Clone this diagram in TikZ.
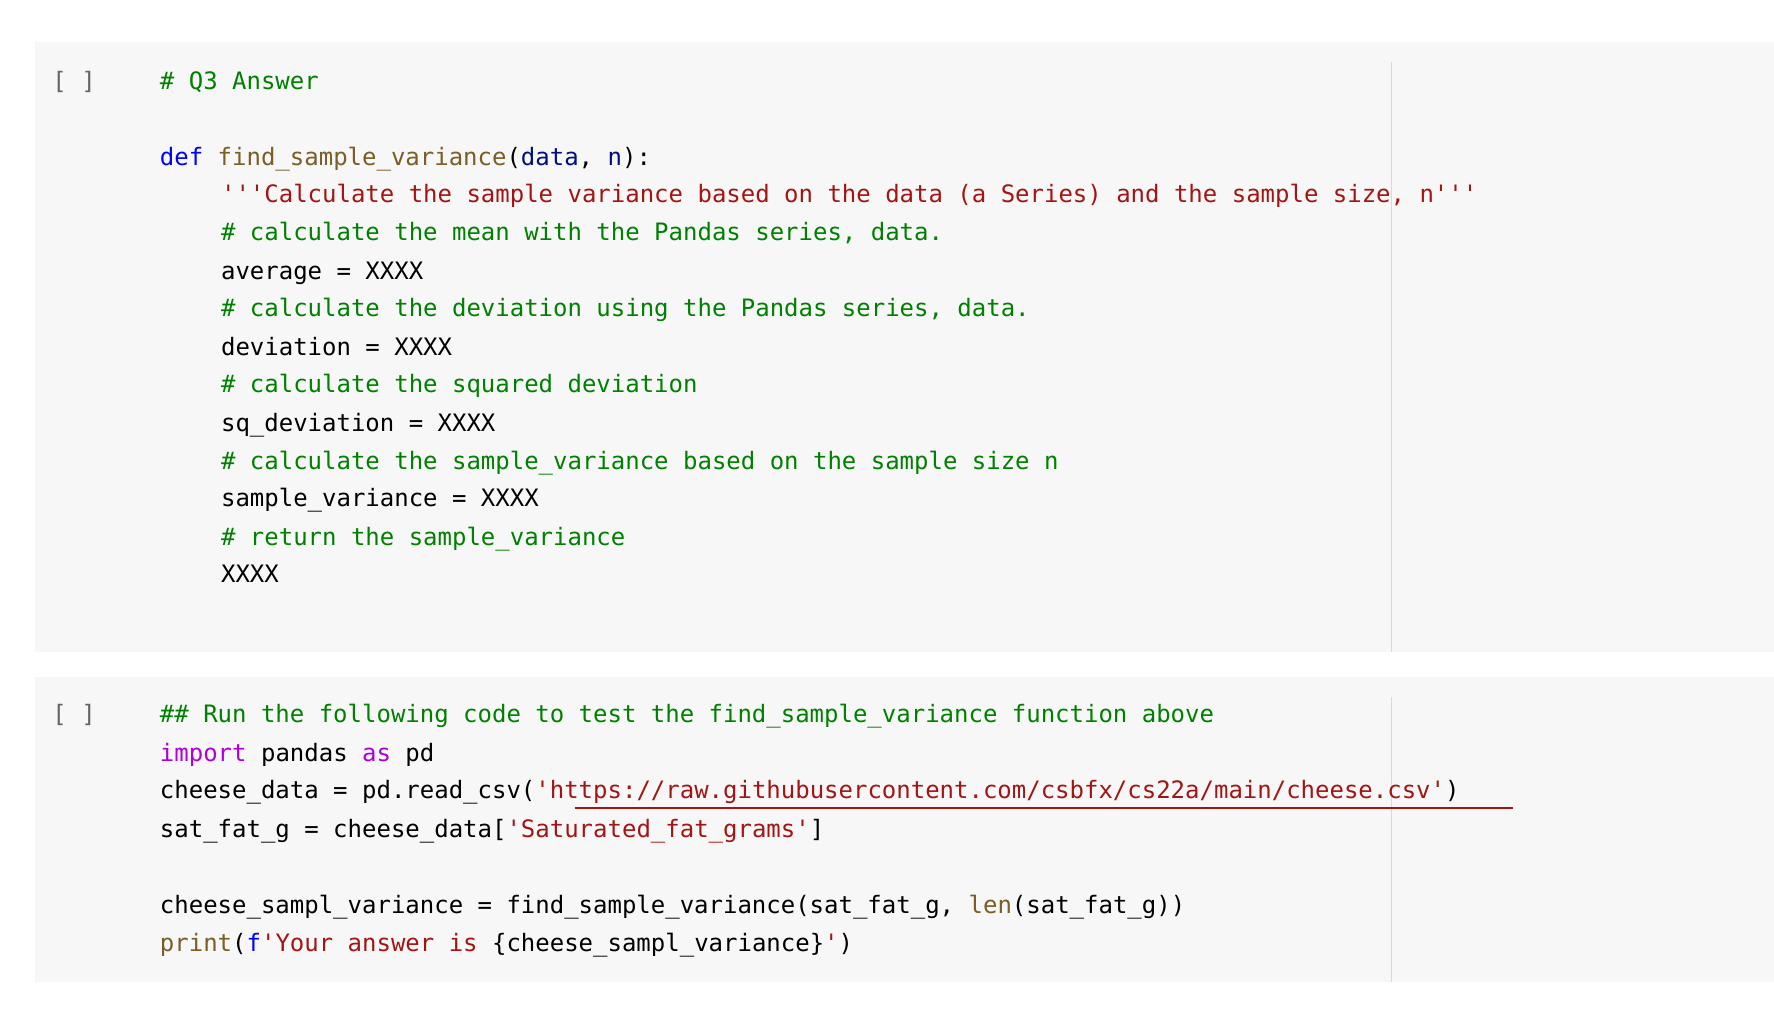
\documentclass[tikz,border=0pt]{standalone}
\usepackage{fontspec}
\setmonofont{DejaVu Sans Mono}
\definecolor{cellbg}{HTML}{F7F7F7}
\definecolor{cm}{HTML}{008000}
\definecolor{kw}{HTML}{0000FF}
\definecolor{fn}{HTML}{795E26}
\definecolor{pa}{HTML}{001080}
\definecolor{st}{HTML}{A31515}
\definecolor{pu}{HTML}{AF00DB}
\definecolor{rule}{HTML}{D9D9D9}
\newcommand{\Cm}[1]{\textcolor{cm}{#1}}
\newcommand{\Kw}[1]{\textcolor{kw}{#1}}
\newcommand{\Fn}[1]{\textcolor{fn}{#1}}
\newcommand{\Pa}[1]{\textcolor{pa}{#1}}
\newcommand{\St}[1]{\textcolor{st}{#1}}
\newcommand{\Pu}[1]{\textcolor{pu}{#1}}
\begin{document}
\begin{tikzpicture}[x=0.5pt,y=-0.5pt,
  code/.style={anchor=base west,inner sep=0pt,font=\ttfamily\fontsize{10.6pt}{12pt}\selectfont},
  br/.style={code,text=black!60}]
\useasboundingbox (0,0) rectangle (1568,893);
\fill[white] (0,0) rectangle (1568,893);
\fill[cellbg] (31,37) rectangle (1568,576);
\fill[cellbg] (31,598) rectangle (1568,868);
\draw[rule] (1230,55) -- (1230,576);
\draw[rule] (1230,616) -- (1230,868);
\node[br] (b1) at (46,79) {[ ]};
\node[br] (b2) at (46,639) {[ ]};
\node[code] (l1) at (141,79) {\Cm{\# Q3 Answer}};
\node[code] (l2) at (141,146) {\Kw{def} \Fn{find\_sample\_variance}(\Pa{data}, \Pa{n}):};
\node[code] (l3) at (195,179) {\St{'''Calculate the sample variance based on the data (a Series) and the sample size, n'''}};
\node[code] (l4) at (195,213) {\Cm{\# calculate the mean with the Pandas series, data.}};
\node[code] (l5) at (195,247) {average = XXXX};
\node[code] (l6) at (195,280) {\Cm{\# calculate the deviation using the Pandas series, data.}};
\node[code] (l7) at (195,314) {deviation = XXXX};
\node[code] (l8) at (195,347) {\Cm{\# calculate the squared deviation}};
\node[code] (l9) at (195,381) {sq\_deviation = XXXX};
\node[code] (l10) at (195,415) {\Cm{\# calculate the sample\_variance based on the sample size n}};
\node[code] (l11) at (195,448) {sample\_variance = XXXX};
\node[code] (l12) at (195,482) {\Cm{\# return the sample\_variance}};
\node[code] (l13) at (195,515) {XXXX};
\node[code] (m1) at (141,639) {\Cm{\#\# Run the following code to test the find\_sample\_variance function above}};
\node[code] (m2) at (141,673) {\Pu{import} pandas \Pu{as} pd};
\node[code] (m3) at (141,706) {cheese\_data = pd.read\_csv(\St{'https://raw.githubusercontent.com/csbfx/cs22a/main/cheese.csv'})};
\node[code] (m4) at (141,740) {sat\_fat\_g = cheese\_data[\St{'Saturated\_fat\_grams'}]};
\node[code] (m5) at (141,807) {cheese\_sampl\_variance = find\_sample\_variance(sat\_fat\_g, \Fn{len}(sat\_fat\_g))};
\node[code] (m6) at (141,841) {\Fn{print}(\Kw{f}\St{'Your answer is }\{cheese\_sampl\_variance\}\St{'})};
\draw[st,line width=1pt] (508,714) -- (1337,714);
\end{tikzpicture}
\end{document}
